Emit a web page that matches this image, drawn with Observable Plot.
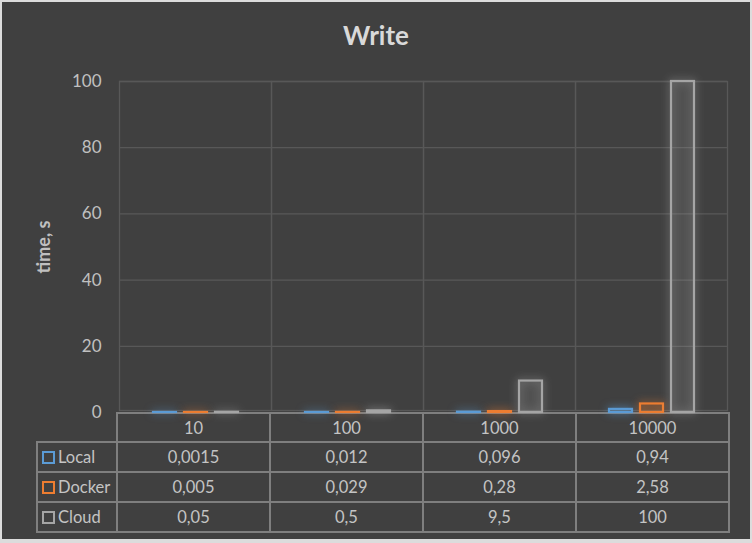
<!DOCTYPE html>
<html>
<head>
<meta charset="utf-8">
<script src="https://cdn.jsdelivr.net/npm/d3@7"></script>
<script src="https://cdn.jsdelivr.net/npm/@observablehq/plot@0.6"></script>
<style>
  html, body { margin: 0; padding: 0; background: #dcdcdc; }
  #frame { position: absolute; left: 2px; top: 2px; width: 748px; height: 537px; background: #404040; }
  #wrap { position: absolute; left: 0; top: 0; width: 752px; height: 543px; font-family: Lato, "Open Sans", sans-serif; }
  #title { position: absolute; left: 0; width: 752px; top: 19px; text-align: center; font-weight: bold; font-size: 26px; color: #d9d9d9; }
  #plot { position: absolute; left: 0; top: 0; z-index: 2; pointer-events: none; }
  table { position: absolute; left: 36px; top: 412px; z-index: 1; border-collapse: collapse; table-layout: fixed; width: 692px; color: #c4c4c4; font-size: 16.5px; }
  td { border: 2px solid #7f7f7f; padding: 0; text-align: center; }
  td.corner { border-top: none; border-left: none; }
  td.name { text-align: left; padding-left: 4px; white-space: nowrap; }
  .sw { display: inline-block; width: 9px; height: 9px; border: 2px solid; margin-right: 3px; vertical-align: -1px; }
</style>
</head>
<body>
<div id="frame"></div>
<div id="wrap">
  <div id="title">Write</div>
  <table id="tbl"></table>
  <div id="plot"></div>
</div>
<script>
const sizes = ["10", "100", "1000", "10000"];
const series = ["Local", "Docker", "Cloud"];
const local = [0.0015, 0.012, 0.096, 0.94];
const docker = [0.005, 0.029, 0.28, 2.58];
const cloud = [0.05, 0.5, 9.5, 100];
const yTicks = [0, 20, 40, 60, 80, 100];
const colors = ["#5b9bd5", "#ed7d31", "#a5a5a5"];

const values = {Local: local, Docker: docker, Cloud: cloud};
const rows = [];
series.forEach(s => sizes.forEach((sz, i) => rows.push({size: sz, series: s, value: values[s][i]})));

const chart = Plot.plot({
  width: 752,
  height: 424,
  marginLeft: 117,
  marginRight: 24,
  marginTop: 81,
  marginBottom: 12,
  style: {background: "transparent", color: "#c0c0c0", fontFamily: "Lato, 'Open Sans', sans-serif", fontSize: "17px", overflow: "visible"},
  fx: {domain: sizes, padding: 0, axis: null},
  x: {domain: series, paddingInner: 0.27, paddingOuter: 1.06, axis: null},
  y: {domain: [0, 100], ticks: yTicks, tickSize: 0, tickPadding: 18, label: "time, s", labelAnchor: "center", labelArrow: "none", labelOffset: 82},
  color: {domain: series, range: colors},
  marks: [
    Plot.ruleY(yTicks.slice(1), {stroke: "#585858", strokeWidth: 1.3}),
    Plot.frame({stroke: "#585858", strokeWidth: 1.3, insetBottom: 2}),
    Plot.barY(rows, {fx: "size", x: "series", y: "value", stroke: "series", fill: "series", fillOpacity: 0.1, strokeWidth: 2.2})
  ]
});
document.getElementById("plot").appendChild(chart);

d3.select(chart).selectAll('g[aria-label="bar"] rect').each(function() {
  const c = this.getAttribute("stroke") || "#aaa";
  this.style.filter = `drop-shadow(0 0 4px ${c}cc)`;
});
d3.select(chart).selectAll('g[aria-label="y-axis label"] text, g[aria-label="y-axis label"]')
  .style("font-weight", "bold").style("font-size", "18px");

// data table
const fmt = v => String(v).replace(".", ",");
const tbl = d3.select("#tbl");
const cg = tbl.append("colgroup");
cg.append("col").style("width", "80px");
sizes.forEach(() => cg.append("col").style("width", "153px"));
const head = tbl.append("tr").style("height", "29px");
head.append("td").attr("class", "corner");
sizes.forEach(s => head.append("td").text(s));
series.forEach((s, k) => {
  const tr = tbl.append("tr").style("height", "30px");
  const nm = tr.append("td").attr("class", "name");
  nm.append("span").attr("class", "sw").style("border-color", colors[k]);
  nm.append("span").text(s);
  values[s].forEach(v => tr.append("td").text(fmt(v)));
});
</script>
</body>
</html>
